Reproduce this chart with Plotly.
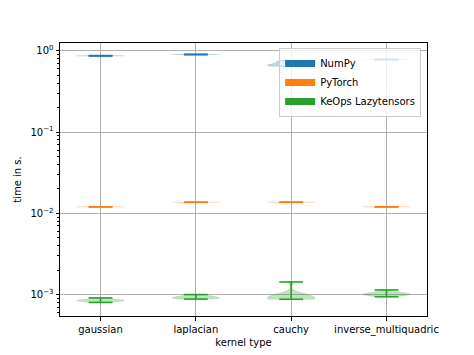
import numpy as np
import plotly.graph_objects as go

categories = ["gaussian", "laplacian", "cauchy", "inverse_multiquadric"]
series_names = ["NumPy", "PyTorch", "KeOps Lazytensors"]
colors = ["#1f77b4", "#ff7f0e", "#2ca02c"]

# timing samples (seconds), one list of runs per kernel
numpy_times = [
    [0.862, 0.864, 0.865, 0.866, 0.866, 0.867, 0.868, 0.868, 0.869, 0.871],
    [0.893, 0.895, 0.897, 0.898, 0.899, 0.900, 0.901, 0.902, 0.903, 0.905],
    [0.645, 0.650, 0.655, 0.662, 0.670, 0.685, 0.705, 0.725, 0.740, 0.752],
    [0.776, 0.777, 0.778, 0.779, 0.780, 0.780, 0.781, 0.782, 0.783, 0.784],
]
pytorch_times = [
    [0.01196, 0.01198, 0.01199, 0.01200, 0.01200, 0.01201, 0.01201, 0.01202, 0.01203, 0.01204],
    [0.01365, 0.01367, 0.01368, 0.01369, 0.01370, 0.01370, 0.01371, 0.01372, 0.01373, 0.01375],
    [0.01365, 0.01366, 0.01368, 0.01369, 0.01370, 0.01370, 0.01371, 0.01373, 0.01374, 0.01376],
    [0.01196, 0.01197, 0.01199, 0.01200, 0.01200, 0.01201, 0.01202, 0.01202, 0.01203, 0.01205],
]
keops_times = [
    [0.000800, 0.000820, 0.000830, 0.000840, 0.000850, 0.000850, 0.000860, 0.000870, 0.000890, 0.000910],
    [0.000880, 0.000890, 0.000900, 0.000910, 0.000920, 0.000930, 0.000940, 0.000960, 0.000980, 0.001000],
    [0.000876, 0.000880, 0.000885, 0.000890, 0.000900, 0.000910, 0.000920, 0.000940, 0.000980, 0.001430],
    [0.000940, 0.000970, 0.000990, 0.001000, 0.001010, 0.001020, 0.001030, 0.001050, 0.001080, 0.001140],
]
all_times = [numpy_times, pytorch_times, keops_times]

ytick_vals = [1e-3, 1e-2, 1e-1, 1e0]
ytick_text = ["10<sup>\u22123</sup>", "10<sup>\u22122</sup>", "10<sup>\u22121</sup>", "10<sup>0</sup>"]
minor_vals = [k * 10.0 ** e for e in range(-4, 1) for k in range(2, 10)]

positions = list(range(1, len(categories) + 1))
violin_width = 0.5


def rgba(hexc, a):
    h = hexc.lstrip("#")
    return "rgba(%d,%d,%d,%.2f)" % (int(h[0:2], 16), int(h[2:4], 16), int(h[4:6], 16), a)


fig = go.Figure()

for s, (name, col, times) in enumerate(zip(series_names, colors, all_times)):
    cap_x, cap_y, bar_x, bar_y = [], [], [], []
    for pos, vals in zip(positions, times):
        v = np.asarray(vals, dtype=float)
        bw = float(np.std(v, ddof=1) * len(v) ** (-0.2))
        fig.add_trace(go.Violin(
            x=[pos] * len(v), y=v, width=violin_width, spanmode="hard",
            bandwidth=bw, points=False, box_visible=False, meanline_visible=False,
            fillcolor=rgba(col, 0.3), line=dict(color=rgba(col, 0.3), width=0.5),
            showlegend=False, hoverinfo="skip", scalemode="width",
        ))
        lo, hi = float(v.min()), float(v.max())
        half = violin_width / 4
        cap_x += [pos - half, pos + half, None, pos - half, pos + half, None]
        cap_y += [lo, lo, None, hi, hi, None]
        bar_x += [pos, pos, None]
        bar_y += [lo, hi, None]
    fig.add_trace(go.Scatter(x=bar_x + cap_x, y=bar_y + cap_y, mode="lines",
                             line=dict(color=col, width=1.6), showlegend=False,
                             hoverinfo="skip"))

for name, col in zip(series_names, colors):
    fig.add_trace(go.Scatter(x=[None], y=[None], mode="lines", name=name,
                             line=dict(color=col, width=7)))

fig.update_layout(
    width=474, height=355,
    margin=dict(l=60, r=47, t=43, b=39),
    paper_bgcolor="white", plot_bgcolor="white",
    violinmode="overlay",
    font=dict(family="DejaVu Sans", size=10, color="black"),
    legend=dict(x=0.984, xanchor="right", y=0.982, yanchor="top",
                bgcolor="rgba(255,255,255,0.8)", bordercolor="#cccccc", borderwidth=1,
                font=dict(size=10), itemwidth=30, tracegroupgap=0),
    showlegend=True,
)
fig.update_xaxes(
    range=[0.575, 4.425], tickmode="array", tickvals=positions, ticktext=categories,
    showgrid=True, gridcolor="#b0b0b0", gridwidth=0.8, zeroline=False,
    showline=True, linecolor="black", linewidth=1, mirror=True,
    ticks="outside", ticklen=3.5, tickcolor="black", automargin=False,
    title=dict(text="kernel type", font=dict(size=10), standoff=4),
)
fig.update_yaxes(
    type="log", range=[np.log10(5.45e-4), np.log10(1.245)],
    tickmode="array", tickvals=ytick_vals, ticktext=ytick_text,
    showgrid=True, gridcolor="#b0b0b0", gridwidth=0.8, zeroline=False,
    showline=True, linecolor="black", linewidth=1, mirror=True,
    ticks="outside", ticklen=3.5, tickcolor="black", automargin=False,
    minor=dict(tickmode="array", tickvals=minor_vals, ticks="outside", ticklen=2,
               tickcolor="black", showgrid=False),
    title=dict(text="time in s.", font=dict(size=10), standoff=6),
)

fig.write_html("out.html", config={"displayModeBar": False},
               post_script="document.body.style.margin='0';")
